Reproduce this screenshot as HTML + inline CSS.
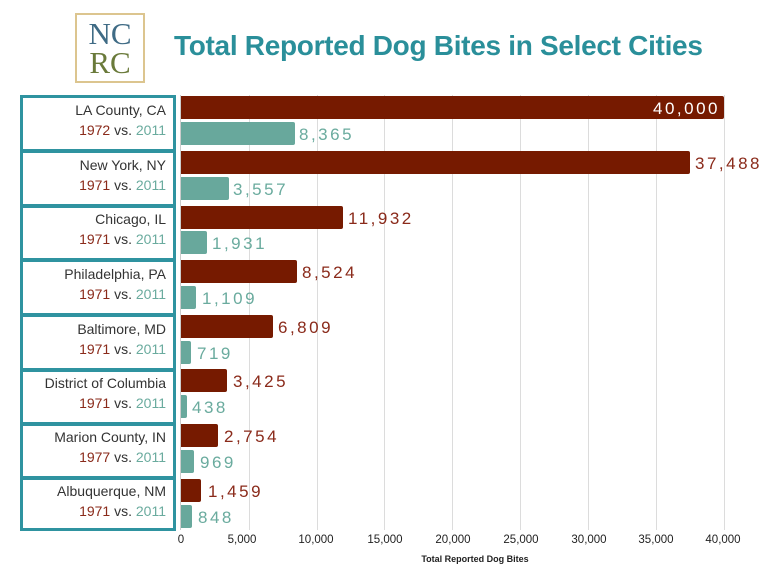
<!DOCTYPE html>
<html><head><meta charset="utf-8"><style>
body{margin:0;width:768px;height:576px;background:#fff;position:relative;overflow:hidden;font-family:"Liberation Sans",sans-serif}
.a{position:absolute}
.grid{position:absolute;top:95px;height:435px;width:1px;background:#dcdcdc}
.box{position:absolute;left:20px;width:156px;border:3px solid #2f93a0;box-sizing:border-box}
.lbl{position:absolute;right:602px;text-align:right;font-size:14px;color:#333;line-height:20px;white-space:nowrap}
.r{color:#8a2a1a}.t{color:#6aab9e}
.bar{position:absolute;left:181px;border-radius:0 2px 2px 0}
.red{background:#761a00;height:23px}
.tea{background:#68a89c;height:23px}
.v{position:absolute;font-size:17px;letter-spacing:2.5px;line-height:23px;white-space:nowrap}
.tick{position:absolute;top:534px;font-size:11.5px;color:#222;transform:translateX(-50%)}
</style></head><body>
<div class="a" style="left:75px;top:13px;width:70px;height:70px;border:2px solid #dcc58f;box-sizing:border-box;text-align:center;font-family:'Liberation Serif',serif;font-size:31px;line-height:29px;padding-top:4px">
<div style="color:#3f6b85">NC</div><div style="color:#6a7a3a">RC</div></div>
<div class="a" style="left:174px;top:30px;font-size:28px;font-weight:bold;color:#2a8f9a;letter-spacing:-0.3px">Total Reported Dog Bites in Select Cities</div>

<div class="grid" style="left:249px"></div><div class="grid" style="left:317px"></div><div class="grid" style="left:384px"></div><div class="grid" style="left:452px"></div><div class="grid" style="left:520px"></div><div class="grid" style="left:588px"></div><div class="grid" style="left:656px"></div><div class="grid" style="left:724px"></div>
<div class="grid" style="left:180px;background:#ccc"></div>

<div class="box" style="top:95px;height:57px"></div>
<div class="box" style="top:150px;height:57px"></div>
<div class="box" style="top:205px;height:56px"></div>
<div class="box" style="top:259px;height:57px"></div>
<div class="box" style="top:314px;height:57px"></div>
<div class="box" style="top:369px;height:56px"></div>
<div class="box" style="top:423px;height:56px"></div>
<div class="box" style="top:477px;height:54px"></div>

<div class="lbl" style="top:100px">LA County, CA<br><span class="r">1972</span> vs. <span class="t">2011</span></div>
<div class="lbl" style="top:155px">New York, NY<br><span class="r">1971</span> vs. <span class="t">2011</span></div>
<div class="lbl" style="top:209px">Chicago, IL<br><span class="r">1971</span> vs. <span class="t">2011</span></div>
<div class="lbl" style="top:264px">Philadelphia, PA<br><span class="r">1971</span> vs. <span class="t">2011</span></div>
<div class="lbl" style="top:319px">Baltimore, MD<br><span class="r">1971</span> vs. <span class="t">2011</span></div>
<div class="lbl" style="top:373px">District of Columbia<br><span class="r">1971</span> vs. <span class="t">2011</span></div>
<div class="lbl" style="top:427px">Marion County, IN<br><span class="r">1977</span> vs. <span class="t">2011</span></div>
<div class="lbl" style="top:481px">Albuquerque, NM<br><span class="r">1971</span> vs. <span class="t">2011</span></div>

<div class="bar red" style="top:96px;width:543px"></div><div class="v" style="top:97px;right:48px;color:#fff">40,000</div>
<div class="bar tea" style="top:122px;width:114px"></div><div class="v t" style="top:123px;left:299px">8,365</div>
<div class="bar red" style="top:151px;width:509px"></div><div class="v r" style="top:152px;left:695px">37,488</div>
<div class="bar tea" style="top:177px;width:48px"></div><div class="v t" style="top:178px;left:233px">3,557</div>
<div class="bar red" style="top:206px;width:162px"></div><div class="v r" style="top:207px;left:348px">11,932</div>
<div class="bar tea" style="top:231px;width:26px"></div><div class="v t" style="top:232px;left:212px">1,931</div>
<div class="bar red" style="top:260px;width:116px"></div><div class="v r" style="top:261px;left:302px">8,524</div>
<div class="bar tea" style="top:286px;width:15px"></div><div class="v t" style="top:287px;left:202px">1,109</div>
<div class="bar red" style="top:315px;width:92px"></div><div class="v r" style="top:316px;left:278px">6,809</div>
<div class="bar tea" style="top:341px;width:10px"></div><div class="v t" style="top:342px;left:197px">719</div>
<div class="bar red" style="top:369px;width:46px"></div><div class="v r" style="top:370px;left:233px">3,425</div>
<div class="bar tea" style="top:395px;width:6px"></div><div class="v t" style="top:396px;left:192px">438</div>
<div class="bar red" style="top:424px;width:37px"></div><div class="v r" style="top:425px;left:224px">2,754</div>
<div class="bar tea" style="top:450px;width:13px"></div><div class="v t" style="top:451px;left:200px">969</div>
<div class="bar red" style="top:479px;width:20px"></div><div class="v r" style="top:480px;left:208px">1,459</div>
<div class="bar tea" style="top:505px;width:11px"></div><div class="v t" style="top:506px;left:198px">848</div>

<div class="tick" style="left:181px">0</div><div class="tick" style="left:242px">5,000</div><div class="tick" style="left:316px">10,000</div><div class="tick" style="left:385px">15,000</div><div class="tick" style="left:453px">20,000</div><div class="tick" style="left:521px">25,000</div><div class="tick" style="left:589px">30,000</div><div class="tick" style="left:656px">35,000</div><div class="tick" style="left:723px">40,000</div>
<div class="a" style="top:554px;left:175px;width:600px;text-align:center;font-size:9px;font-weight:bold;color:#222">Total Reported Dog Bites</div>
</body></html>
